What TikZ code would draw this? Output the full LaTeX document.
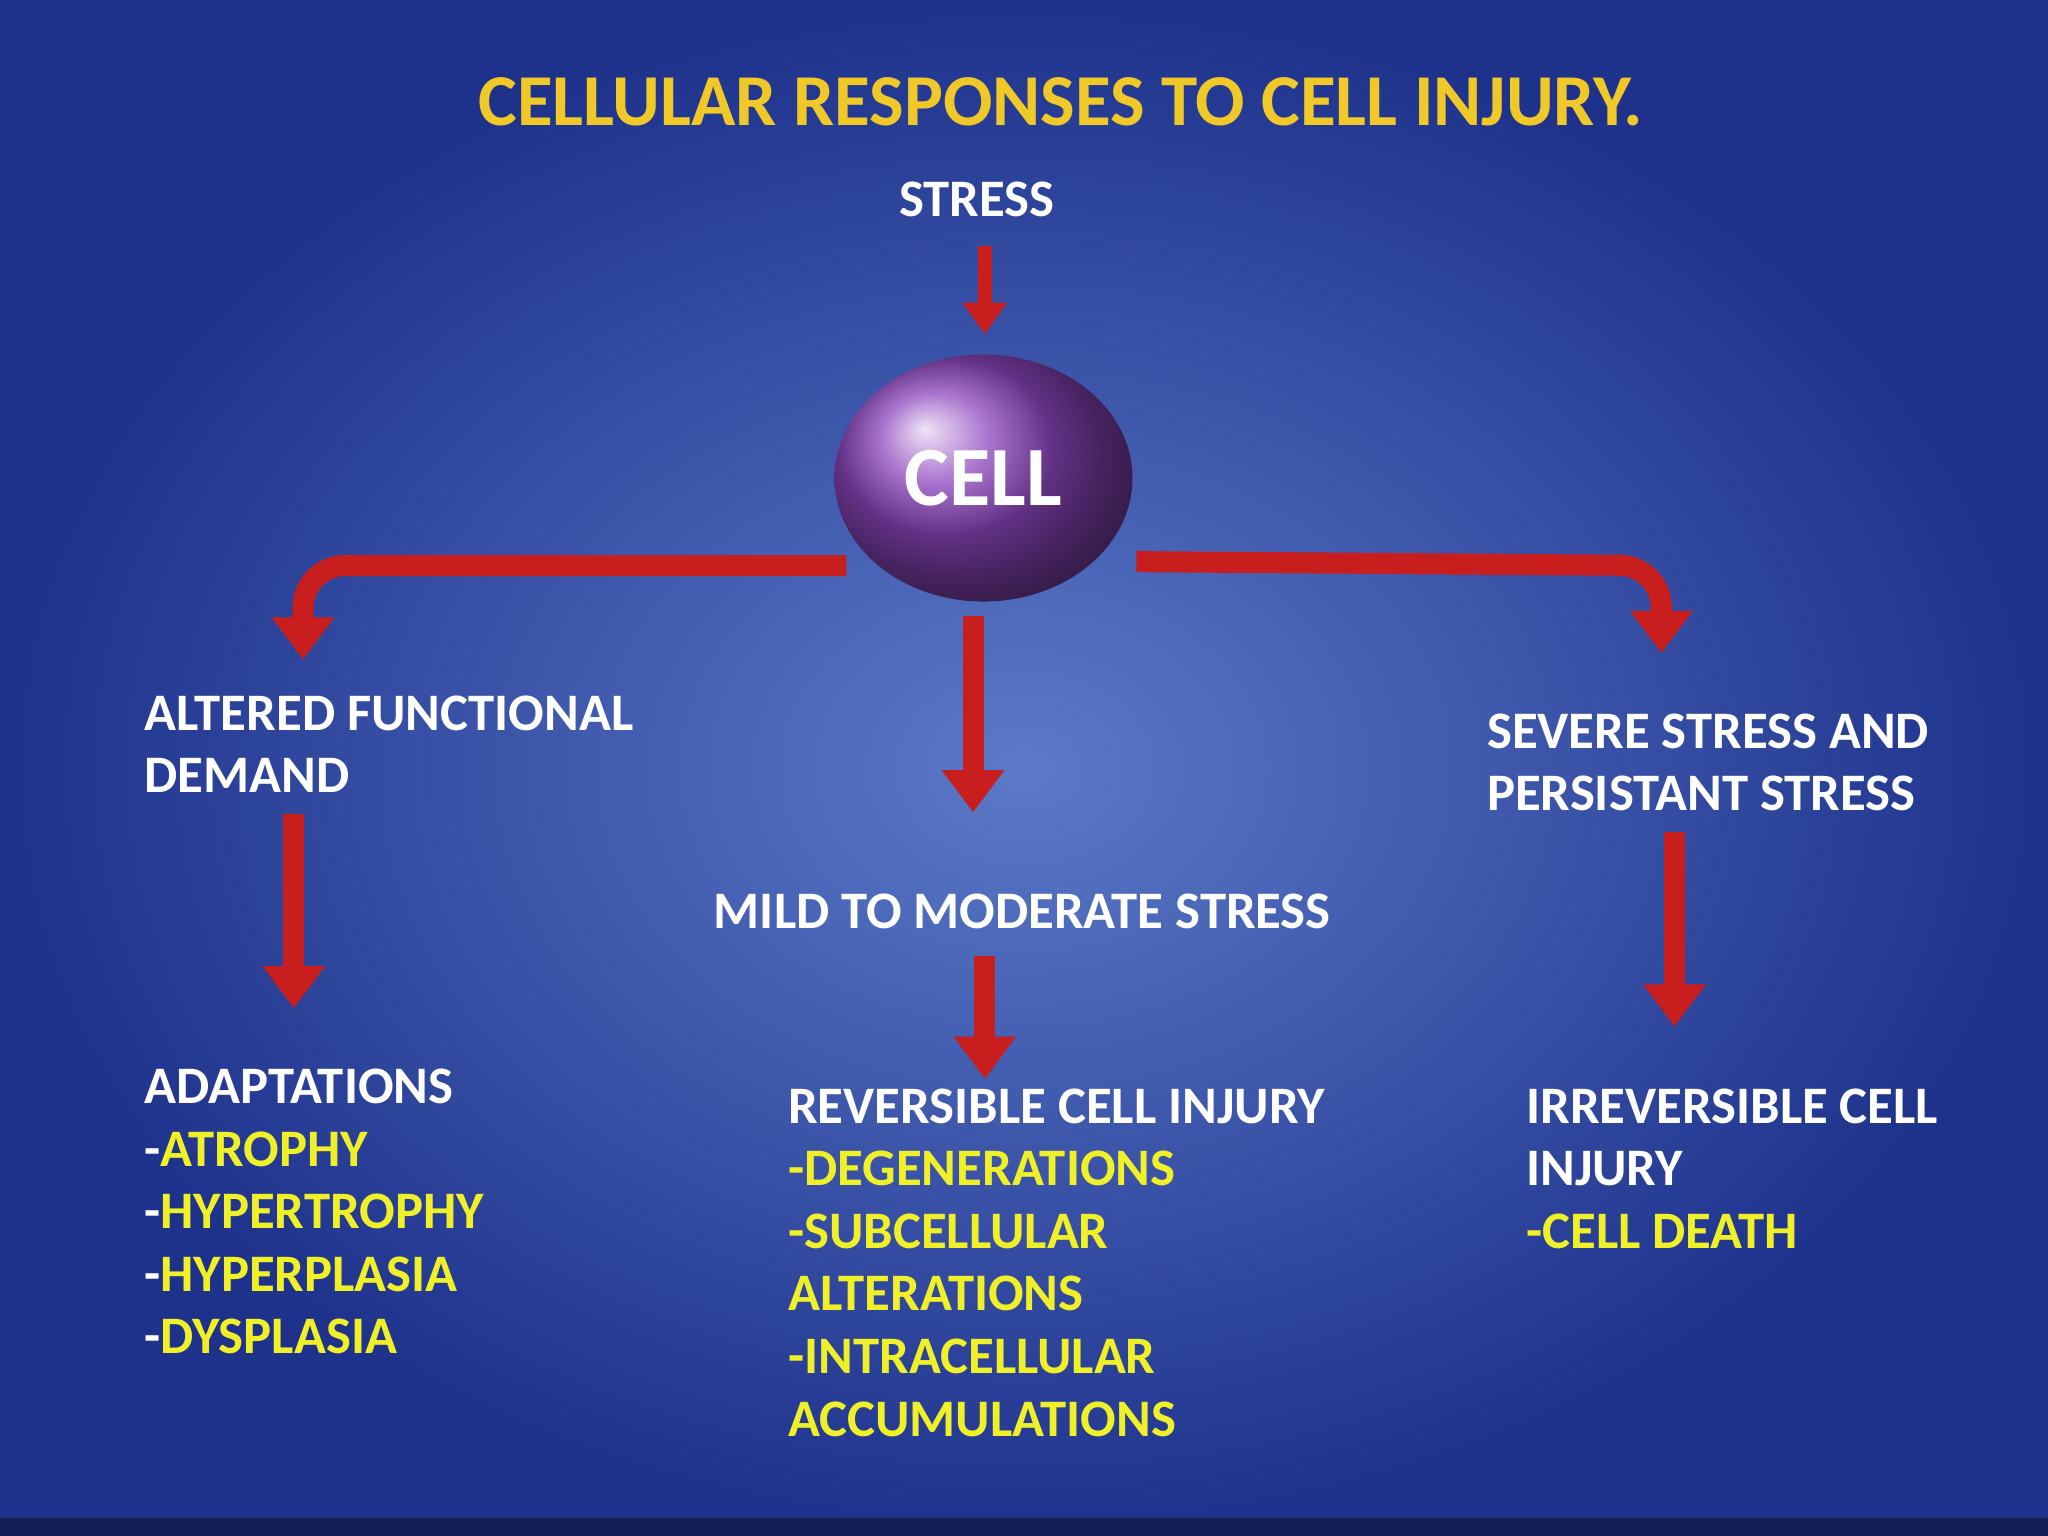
\documentclass[tikz,border=0pt]{standalone}
\usepackage{fontspec}
\setmainfont{Carlito}
\usetikzlibrary{positioning, arrows.meta, shadings, shapes.geometric}
\definecolor{bgblue}{RGB}{62,98,190}
\definecolor{bgdark}{RGB}{30,50,140}
\definecolor{titleyellow}{RGB}{240,200,40}
\definecolor{listyellow}{RGB}{240,240,40}
\definecolor{arrowred}{RGB}{200,30,30}
\definecolor{cellpurple}{RGB}{140,70,190}
\tikzset{
  label/.style={text=white, font=\bfseries\fontsize{15}{17.8}\selectfont, align=left, inner sep=0pt},
  redarrow/.style={draw=arrowred, line width=6pt, -{Triangle[length=12pt, width=17pt]}, rounded corners=12pt}
}
\begin{document}
\begin{tikzpicture}[x=0.01306cm, y=-0.01306cm]
  % background
  \shade[inner color=bgblue!85!white, outer color=bgdark] (0,0) rectangle (1568,1176);
  \fill[bgdark!60!black] (0,1162) rectangle (1568,1176);
  \useasboundingbox (0,0) rectangle (1568,1176);

  \node[text=titleyellow, font=\bfseries\fontsize{20.8}{24}\selectfont] (title) at (812,78) {CELLULAR RESPONSES TO CELL INJURY.};
  \node[label] (stress) at (748,153) {STRESS};
  \node[ellipse, inner sep=0pt, minimum width=2.98cm, minimum height=2.47cm,
        ball color=cellpurple, text=white, font=\bfseries\fontsize{24}{28}\selectfont] (cell) at (753,366) {CELL};

  \node[label, anchor=north west] (altered) at (110,532) {ALTERED FUNCTIONAL\\DEMAND};
  \node[label, anchor=north west] (mild) at (546,684) {MILD TO MODERATE STRESS};
  \node[label, anchor=north west] (severe) at (1138,546) {SEVERE STRESS AND\\PERSISTANT STRESS};

  \node[label, anchor=north west] (adapt) at (110,818) {ADAPTATIONS\\-{\color{listyellow}ATROPHY}\\-{\color{listyellow}HYPERTROPHY}\\-{\color{listyellow}HYPERPLASIA}\\-{\color{listyellow}DYSPLASIA}};
  \node[label, anchor=north west] (revers) at (603,833) {REVERSIBLE CELL INJURY\\{\color{listyellow}-DEGENERATIONS}\\{\color{listyellow}-SUBCELLULAR}\\{\color{listyellow}ALTERATIONS}\\{\color{listyellow}-INTRACELLULAR}\\{\color{listyellow}ACCUMULATIONS}};
  \node[label, anchor=north west] (irrev) at (1168,833) {IRREVERSIBLE CELL\\INJURY\\{\color{listyellow}-CELL DEATH}};

  \coordinate (lcorner) at (232,433);
  \coordinate (rcorner) at (1272,433);
  \draw[redarrow, line width=4pt, -{Triangle[length=9pt, width=12pt]}] (754,188) -- (754,256);
  \draw[redarrow] (648,433) -- (lcorner) -- (232,505);
  \draw[redarrow] (870,430) -- (rcorner) -- (1272,500);
  \draw[redarrow] (745,472) -- (745,622);
  \draw[redarrow] (225,623) -- (225,772);
  \draw[redarrow] (754,732) -- (754,826);
  \draw[redarrow] (1282,637) -- (1282,786);
\end{tikzpicture}
\end{document}
